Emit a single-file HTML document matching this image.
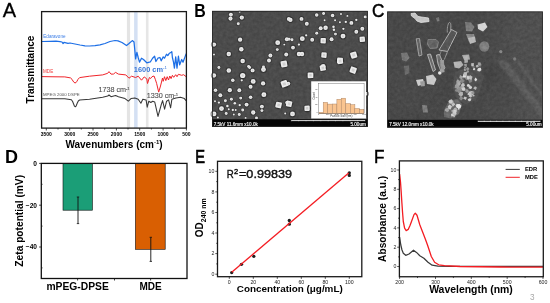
<!DOCTYPE html>
<html><head><meta charset="utf-8"><title>Figure</title>
<style>html,body{margin:0;padding:0;background:#fff;} svg{display:block;font-family:'Liberation Sans', Arial, sans-serif;}</style>
</head><body>
<svg width="550" height="303" viewBox="0 0 550 303">
<rect width="550" height="303" fill="#fff"/>
<text x="2.8" y="17.3" font-size="20.0" font-weight="normal" fill="#000" text-anchor="start" stroke="#000" stroke-width="0.3">A</text>
<text x="194.2" y="16.9" font-size="18.5" font-weight="bold" fill="#000" text-anchor="start" transform="translate(194.2,0) scale(0.86,1) translate(-194.2,0)">B</text>
<text x="0" y="0" font-size="19" fill="#000" stroke="#000" stroke-width="0.5" transform="translate(371.9,16.9) scale(0.9,1)">C</text>
<text x="5.0" y="162.9" font-size="18" font-weight="bold" fill="#000" text-anchor="start" >D</text>
<text x="0" y="0" font-size="19" fill="#000" stroke="#000" stroke-width="0.75" transform="translate(195.2,163.1) scale(0.77,1)">E</text>
<text x="0" y="0" font-size="19" fill="#000" stroke="#000" stroke-width="0.5" transform="translate(374.1,163.0) scale(0.9,1)">F</text>
<rect x="126.9" y="11.6" width="3.2" height="116.5" fill="#e4e4e4"/>
<rect x="134.1" y="11.6" width="3.5" height="116.5" fill="#d4e0f3"/>
<rect x="145.9" y="11.6" width="2.6" height="116.5" fill="#e6e6e6"/>
<polyline points="42.0,41.5 50.0,41.3 56.0,41.2 60.0,41.6 62.0,42.0 63.1,43.6 64.0,42.3 66.0,42.8 68.0,43.3 70.0,43.0 75.0,44.0 80.0,45.0 85.0,45.8 89.6,46.0 95.0,45.6 100.0,44.8 105.0,43.5 110.0,41.5 115.0,40.5 118.0,40.8 122.0,42.5 126.5,45.6 129.0,43.5 132.3,40.6 134.0,42.0 134.8,50.0 135.6,58.9 136.9,52.3 138.2,57.5 139.5,62.2 141.5,58.2 143.5,59.5 146.8,62.8 149.4,62.2 150.3,62.0 152.6,58.2 154.6,56.2 155.9,61.5 157.9,58.2 159.9,57.5 161.2,60.8 163.2,56.9 164.5,58.2 166.5,54.2 167.8,55.6 169.1,53.6 171.1,52.3 171.8,51.6 172.4,57.5 173.5,62.2 174.4,68.1 175.7,56.9 177.0,68.1 178.4,56.2 179.7,64.8 181.7,59.5 183.0,62.2 185.0,56.9 186.2,53.6" fill="none" stroke="#1d6fe6" stroke-width="1.25" stroke-linejoin="round"/>
<polyline points="42.0,76.6 55.0,76.8 64.8,76.9 70.5,77.9 72.0,79.3 73.0,81.0 74.0,82.4 75.0,82.9 76.0,82.6 77.0,81.2 78.0,79.3 79.6,77.6 89.5,76.2 102.7,74.9 107.7,73.3 109.0,71.6 111.0,74.1 113.4,74.1 115.6,72.4 118.4,74.1 125.8,74.9 129.0,78.2 131.6,76.2 135.6,77.5 138.2,76.2 141.5,80.2 144.2,76.9 146.8,78.9 147.5,83.5 149.4,77.5 150.6,78.5 152.0,76.7 154.0,76.0 155.3,79.3 156.6,83.3 158.7,92.1 160.5,86.0 162.5,78.0 163.2,81.3 164.5,76.7 165.8,80.6 167.2,76.7 168.5,80.0 169.8,76.0 171.1,78.6 172.4,75.3 173.7,77.3 175.7,74.7 177.0,76.7 178.4,74.3 181.7,75.3 183.6,74.7 186.2,76.7" fill="none" stroke="#f0242a" stroke-width="1.0" stroke-linejoin="round"/>
<polyline points="42.0,98.8 64.8,98.8 71.4,99.7 72.6,101.5 73.6,104.0 74.5,106.2 75.3,106.8 76.2,105.8 77.2,103.3 78.3,101.0 79.6,100.0 89.5,99.2 102.7,97.2 107.7,96.0 109.0,95.0 111.0,96.7 115.6,95.5 118.4,96.7 125.0,98.6 128.3,101.2 131.0,98.6 134.9,97.9 138.2,99.2 140.9,103.2 142.8,99.2 146.1,99.9 147.2,107.2 148.8,101.2 150.8,102.5 152.7,101.2 154.7,101.9 158.0,116.4 161.3,104.5 162.6,100.6 164.6,109.2 166.6,101.2 168.6,99.9 170.6,107.8 171.9,99.2 175.9,97.9 180.5,97.3 184.4,98.6 186.0,100.6" fill="none" stroke="#383838" stroke-width="1.05" stroke-linejoin="round"/>
<rect x="41.6" y="11.6" width="144.8" height="116.5" fill="none" stroke="#1a1a1a" stroke-width="1.3"/>
<line x1="46.3" y1="128.1" x2="46.3" y2="130.5" stroke="#1a1a1a" stroke-width="0.8"/>
<text x="46.3" y="135.9" font-size="5" font-weight="bold" fill="#000" text-anchor="middle" >3500</text>
<line x1="58.0" y1="128.1" x2="58.0" y2="129.5" stroke="#1a1a1a" stroke-width="0.8"/>
<line x1="69.7" y1="128.1" x2="69.7" y2="130.5" stroke="#1a1a1a" stroke-width="0.8"/>
<text x="69.7" y="135.9" font-size="5" font-weight="bold" fill="#000" text-anchor="middle" >3000</text>
<line x1="81.3" y1="128.1" x2="81.3" y2="129.5" stroke="#1a1a1a" stroke-width="0.8"/>
<line x1="93.0" y1="128.1" x2="93.0" y2="130.5" stroke="#1a1a1a" stroke-width="0.8"/>
<text x="93.0" y="135.9" font-size="5" font-weight="bold" fill="#000" text-anchor="middle" >2500</text>
<line x1="104.7" y1="128.1" x2="104.7" y2="129.5" stroke="#1a1a1a" stroke-width="0.8"/>
<line x1="116.4" y1="128.1" x2="116.4" y2="130.5" stroke="#1a1a1a" stroke-width="0.8"/>
<text x="116.4" y="135.9" font-size="5" font-weight="bold" fill="#000" text-anchor="middle" >2000</text>
<line x1="128.0" y1="128.1" x2="128.0" y2="129.5" stroke="#1a1a1a" stroke-width="0.8"/>
<line x1="139.7" y1="128.1" x2="139.7" y2="130.5" stroke="#1a1a1a" stroke-width="0.8"/>
<text x="139.7" y="135.9" font-size="5" font-weight="bold" fill="#000" text-anchor="middle" >1500</text>
<line x1="151.4" y1="128.1" x2="151.4" y2="129.5" stroke="#1a1a1a" stroke-width="0.8"/>
<line x1="163.1" y1="128.1" x2="163.1" y2="130.5" stroke="#1a1a1a" stroke-width="0.8"/>
<text x="163.1" y="135.9" font-size="5" font-weight="bold" fill="#000" text-anchor="middle" >1000</text>
<line x1="174.7" y1="128.1" x2="174.7" y2="129.5" stroke="#1a1a1a" stroke-width="0.8"/>
<line x1="186.4" y1="128.1" x2="186.4" y2="130.5" stroke="#1a1a1a" stroke-width="0.8"/>
<text x="186.4" y="135.9" font-size="5" font-weight="bold" fill="#000" text-anchor="middle" >500</text>
<text x="43.3" y="37.9" font-size="4.6" font-weight="normal" fill="#3b7de6" text-anchor="start" >Edaravone</text>
<text x="43.0" y="73.2" font-size="4.6" font-weight="normal" fill="#f04040" text-anchor="start" >MDE</text>
<text x="43.0" y="95.7" font-size="4.35" font-weight="normal" fill="#555" text-anchor="start" >MPEG 2000 DSPE</text>
<text x="133.8" y="72.2" font-size="7.4" font-weight="bold" fill="#3a78d8">1600 cm<tspan font-size="4.4" dy="-3" font-weight="normal">-1</tspan></text>
<text x="98.4" y="92.3" font-size="7.2" fill="#505050" stroke="#505050" stroke-width="0.12">1738 cm<tspan font-size="4.2" dy="-2.4" stroke-width="0.1">-1</tspan></text>
<text x="146.7" y="98.1" font-size="7.2" fill="#505050" stroke="#505050" stroke-width="0.12">1330 cm<tspan font-size="4.2" dy="-2.4" stroke-width="0.1">-1</tspan></text>
<text x="114" y="147.8" font-size="10" font-weight="bold" text-anchor="middle">Wavenumbers (cm<tspan font-size="6" dy="-4">-1</tspan><tspan dy="4">)</tspan></text>
<text x="0" y="0" font-size="10" font-weight="bold" fill="#000" text-anchor="middle" transform="translate(33.9,69.5) rotate(-90)">Transmittance</text>
<defs><radialGradient id="pg" cx="50%" cy="45%" r="55%"><stop offset="0" stop-color="#f4f4f4"/><stop offset="0.55" stop-color="#d8d8d8"/><stop offset="0.8" stop-color="#9a9a9a"/><stop offset="1" stop-color="#555" stop-opacity="0"/></radialGradient><filter id="blur1" x="-10%" y="-10%" width="120%" height="120%"><feGaussianBlur stdDeviation="0.4"/></filter><filter id="blur2"><feGaussianBlur stdDeviation="1.2"/></filter><filter id="blur2h" x="-50%" y="-50%" width="200%" height="200%"><feGaussianBlur stdDeviation="0.6"/></filter><filter id="grain" x="0" y="0" width="100%" height="100%" color-interpolation-filters="sRGB"><feTurbulence type="fractalNoise" baseFrequency="0.3" numOctaves="2" seed="5"/><feColorMatrix type="matrix" values="1 0 0 0 0  1 0 0 0 0  1 0 0 0 0  0 0 0 0 1"/></filter><filter id="blur3" x="-50%" y="-50%" width="200%" height="200%"><feGaussianBlur stdDeviation="4"/></filter></defs>
<rect x="212.0" y="10.9" width="155.89999999999998" height="115.8" fill="#4b4b4b"/>
<g filter="url(#blur2h)">
<circle cx="230.9" cy="14.6" r="2.80" fill="#222" opacity="0.55"/>
<circle cx="230.5" cy="18.6" r="2.94" fill="#222" opacity="0.55"/>
<circle cx="241.8" cy="17.6" r="3.08" fill="#222" opacity="0.55"/>
<circle cx="238.3" cy="23.8" r="2.10" fill="#222" opacity="0.55"/>
<circle cx="239.7" cy="11.8" r="1.40" fill="#222" opacity="0.55"/>
<circle cx="288.8" cy="18.9" r="2.80" fill="#222" opacity="0.55"/>
<circle cx="240.1" cy="39.7" r="3.08" fill="#222" opacity="0.55"/>
<circle cx="214" cy="44.6" r="3.08" fill="#222" opacity="0.55"/>
<circle cx="241.3" cy="49.2" r="3.22" fill="#222" opacity="0.55"/>
<circle cx="228.8" cy="54" r="3.22" fill="#222" opacity="0.55"/>
<circle cx="242.7" cy="61" r="3.22" fill="#222" opacity="0.55"/>
<circle cx="277.7" cy="42.7" r="3.50" fill="#222" opacity="0.55"/>
<circle cx="286.8" cy="39.3" r="2.80" fill="#222" opacity="0.55"/>
<circle cx="284.3" cy="44.6" r="1.40" fill="#222" opacity="0.55"/>
<circle cx="277.3" cy="49.6" r="2.10" fill="#222" opacity="0.55"/>
<circle cx="286.2" cy="54.5" r="2.80" fill="#222" opacity="0.55"/>
<circle cx="270.4" cy="55.5" r="2.80" fill="#222" opacity="0.55"/>
<circle cx="269" cy="60.5" r="2.80" fill="#222" opacity="0.55"/>
<circle cx="284.0" cy="64.0" r="4.62" fill="#222" opacity="0.55"/>
<circle cx="218.9" cy="67.5" r="2.10" fill="#222" opacity="0.55"/>
<circle cx="248.6" cy="66.4" r="2.10" fill="#222" opacity="0.55"/>
<circle cx="263.5" cy="67" r="2.10" fill="#222" opacity="0.55"/>
<circle cx="214" cy="54.5" r="1.40" fill="#222" opacity="0.55"/>
<circle cx="290.4" cy="19.9" r="3.08" fill="#222" opacity="0.55"/>
<circle cx="301.5" cy="18.9" r="2.80" fill="#222" opacity="0.55"/>
<circle cx="306.8" cy="23.8" r="2.80" fill="#222" opacity="0.55"/>
<circle cx="316.7" cy="14.9" r="2.52" fill="#222" opacity="0.55"/>
<circle cx="323.6" cy="13.5" r="2.10" fill="#222" opacity="0.55"/>
<circle cx="332.6" cy="15.5" r="2.52" fill="#222" opacity="0.55"/>
<circle cx="341" cy="14" r="1.40" fill="#222" opacity="0.55"/>
<circle cx="347.4" cy="15.9" r="1.40" fill="#222" opacity="0.55"/>
<circle cx="365.2" cy="16.9" r="2.10" fill="#222" opacity="0.55"/>
<circle cx="324.6" cy="20.3" r="1.40" fill="#222" opacity="0.55"/>
<circle cx="335.1" cy="20.3" r="1.40" fill="#222" opacity="0.55"/>
<circle cx="339.9" cy="22.3" r="1.40" fill="#222" opacity="0.55"/>
<circle cx="345.8" cy="21.9" r="1.68" fill="#222" opacity="0.55"/>
<circle cx="351.4" cy="22.9" r="2.80" fill="#222" opacity="0.55"/>
<circle cx="356.3" cy="19.9" r="1.68" fill="#222" opacity="0.55"/>
<circle cx="320.7" cy="28.2" r="2.80" fill="#222" opacity="0.55"/>
<circle cx="325.6" cy="27.8" r="3.22" fill="#222" opacity="0.55"/>
<circle cx="333.5" cy="26.8" r="1.82" fill="#222" opacity="0.55"/>
<circle cx="333.9" cy="29.8" r="1.82" fill="#222" opacity="0.55"/>
<circle cx="343.4" cy="28.8" r="1.68" fill="#222" opacity="0.55"/>
<circle cx="356.3" cy="31.8" r="2.80" fill="#222" opacity="0.55"/>
<circle cx="362.3" cy="28.8" r="2.80" fill="#222" opacity="0.55"/>
<circle cx="316.7" cy="33.3" r="2.10" fill="#222" opacity="0.55"/>
<circle cx="335.5" cy="34.1" r="2.10" fill="#222" opacity="0.55"/>
<circle cx="302.3" cy="38.7" r="3.50" fill="#222" opacity="0.55"/>
<circle cx="306.2" cy="35.3" r="1.68" fill="#222" opacity="0.55"/>
<circle cx="312.2" cy="39.7" r="2.80" fill="#222" opacity="0.55"/>
<circle cx="323.2" cy="40.7" r="3.92" fill="#222" opacity="0.55"/>
<circle cx="331.6" cy="39.3" r="2.80" fill="#222" opacity="0.55"/>
<circle cx="343" cy="36.1" r="3.50" fill="#222" opacity="0.55"/>
<circle cx="362.3" cy="39.3" r="3.92" fill="#222" opacity="0.55"/>
<circle cx="292" cy="39.7" r="2.10" fill="#222" opacity="0.55"/>
<circle cx="289" cy="39.3" r="2.10" fill="#222" opacity="0.55"/>
<circle cx="293" cy="47.6" r="2.80" fill="#222" opacity="0.55"/>
<circle cx="298.9" cy="44.6" r="1.68" fill="#222" opacity="0.55"/>
<circle cx="299" cy="54" r="3.22" fill="#222" opacity="0.55"/>
<circle cx="302" cy="54" r="3.22" fill="#222" opacity="0.55"/>
<circle cx="324" cy="55.1" r="3.92" fill="#222" opacity="0.55"/>
<circle cx="339.9" cy="60.5" r="4.20" fill="#222" opacity="0.55"/>
<circle cx="353.7" cy="55.1" r="4.62" fill="#222" opacity="0.55"/>
<circle cx="323.2" cy="66.4" r="3.50" fill="#222" opacity="0.55"/>
<circle cx="228.8" cy="70.4" r="3.22" fill="#222" opacity="0.55"/>
<circle cx="249.6" cy="67.5" r="2.10" fill="#222" opacity="0.55"/>
<circle cx="252.6" cy="70.4" r="2.80" fill="#222" opacity="0.55"/>
<circle cx="263.5" cy="69.6" r="3.50" fill="#222" opacity="0.55"/>
<circle cx="214" cy="75.5" r="3.08" fill="#222" opacity="0.55"/>
<circle cx="242.7" cy="75.5" r="3.78" fill="#222" opacity="0.55"/>
<circle cx="241.7" cy="80.3" r="1.68" fill="#222" opacity="0.55"/>
<circle cx="232.8" cy="80.3" r="2.52" fill="#222" opacity="0.55"/>
<circle cx="253.2" cy="81.4" r="3.50" fill="#222" opacity="0.55"/>
<circle cx="250.6" cy="86.8" r="2.80" fill="#222" opacity="0.55"/>
<circle cx="263.1" cy="83.4" r="3.08" fill="#222" opacity="0.55"/>
<circle cx="284.4" cy="83.8" r="4.76" fill="#222" opacity="0.55"/>
<circle cx="215.5" cy="90.2" r="2.52" fill="#222" opacity="0.55"/>
<circle cx="229.8" cy="90.2" r="3.08" fill="#222" opacity="0.55"/>
<circle cx="239.3" cy="90.2" r="2.80" fill="#222" opacity="0.55"/>
<circle cx="263.9" cy="94.7" r="3.50" fill="#222" opacity="0.55"/>
<circle cx="220.3" cy="95.3" r="2.80" fill="#222" opacity="0.55"/>
<circle cx="250.6" cy="97.3" r="2.52" fill="#222" opacity="0.55"/>
<circle cx="240.7" cy="98.1" r="2.10" fill="#222" opacity="0.55"/>
<circle cx="231.4" cy="99.3" r="2.10" fill="#222" opacity="0.55"/>
<circle cx="225.4" cy="100.7" r="2.10" fill="#222" opacity="0.55"/>
<circle cx="215" cy="101.2" r="1.40" fill="#222" opacity="0.55"/>
<circle cx="218.9" cy="102.6" r="1.68" fill="#222" opacity="0.55"/>
<circle cx="234.8" cy="103.2" r="1.82" fill="#222" opacity="0.55"/>
<circle cx="246.6" cy="104.6" r="2.80" fill="#222" opacity="0.55"/>
<circle cx="278.6" cy="105" r="4.34" fill="#222" opacity="0.55"/>
<circle cx="287.2" cy="102.6" r="2.80" fill="#222" opacity="0.55"/>
<circle cx="227.4" cy="106" r="1.82" fill="#222" opacity="0.55"/>
<circle cx="239.7" cy="105.2" r="1.68" fill="#222" opacity="0.55"/>
<circle cx="221.5" cy="108.6" r="3.50" fill="#222" opacity="0.55"/>
<circle cx="228.8" cy="109.2" r="1.40" fill="#222" opacity="0.55"/>
<circle cx="232.8" cy="110" r="1.68" fill="#222" opacity="0.55"/>
<circle cx="235.7" cy="110" r="1.40" fill="#222" opacity="0.55"/>
<circle cx="242.7" cy="110" r="2.10" fill="#222" opacity="0.55"/>
<circle cx="261.9" cy="106.6" r="2.80" fill="#222" opacity="0.55"/>
<circle cx="261.9" cy="110.6" r="2.10" fill="#222" opacity="0.55"/>
<circle cx="214" cy="113.9" r="3.50" fill="#222" opacity="0.55"/>
<circle cx="226.2" cy="113.5" r="2.10" fill="#222" opacity="0.55"/>
<circle cx="233.8" cy="114.5" r="1.40" fill="#222" opacity="0.55"/>
<circle cx="239.3" cy="114.5" r="2.10" fill="#222" opacity="0.55"/>
<circle cx="253.2" cy="112.5" r="3.08" fill="#222" opacity="0.55"/>
<circle cx="285.2" cy="113.5" r="1.40" fill="#222" opacity="0.55"/>
<circle cx="217.9" cy="117.5" r="1.40" fill="#222" opacity="0.55"/>
<circle cx="245.6" cy="117.9" r="1.40" fill="#222" opacity="0.55"/>
<circle cx="256.5" cy="117.9" r="2.10" fill="#222" opacity="0.55"/>
<circle cx="340.1" cy="61.1" r="4.20" fill="#222" opacity="0.55"/>
<circle cx="322.8" cy="67.9" r="4.20" fill="#222" opacity="0.55"/>
<circle cx="353.2" cy="70.1" r="4.62" fill="#222" opacity="0.55"/>
<circle cx="310.5" cy="75.3" r="4.20" fill="#222" opacity="0.55"/>
<circle cx="288.3" cy="83.6" r="2.80" fill="#222" opacity="0.55"/>
<circle cx="289.1" cy="103.8" r="4.20" fill="#222" opacity="0.55"/>
<circle cx="307.1" cy="108.3" r="3.92" fill="#222" opacity="0.55"/>
<circle cx="292.5" cy="113.9" r="3.50" fill="#222" opacity="0.55"/>
<circle cx="366.5" cy="93.7" r="2.52" fill="#222" opacity="0.55"/>
</g>
<g filter="url(#blur1)">
<circle cx="230.9" cy="14.6" r="1.94" fill="#ebebeb"/>
<circle cx="230.9" cy="14.75" r="0.84" fill="#d2d2d2"/>
<circle cx="230.5" cy="18.6" r="2.04" fill="#ebebeb"/>
<circle cx="230.5" cy="18.75" r="0.88" fill="#d2d2d2"/>
<circle cx="241.8" cy="17.6" r="2.13" fill="#ebebeb"/>
<circle cx="241.8" cy="17.75" r="0.92" fill="#d2d2d2"/>
<circle cx="238.3" cy="23.8" r="1.46" fill="#ebebeb"/>
<circle cx="238.3" cy="23.95" r="0.63" fill="#d2d2d2"/>
<circle cx="239.7" cy="11.8" r="0.97" fill="#ebebeb"/>
<circle cx="288.8" cy="18.9" r="1.94" fill="#ebebeb"/>
<circle cx="288.8" cy="19.049999999999997" r="0.84" fill="#d2d2d2"/>
<circle cx="240.1" cy="39.7" r="2.13" fill="#ebebeb"/>
<circle cx="240.1" cy="39.85" r="0.92" fill="#d2d2d2"/>
<circle cx="214" cy="44.6" r="2.13" fill="#ebebeb"/>
<circle cx="214" cy="44.75" r="0.92" fill="#d2d2d2"/>
<circle cx="241.3" cy="49.2" r="2.23" fill="#ebebeb"/>
<circle cx="241.3" cy="49.35" r="0.97" fill="#d2d2d2"/>
<circle cx="228.8" cy="54" r="2.23" fill="#ebebeb"/>
<circle cx="228.8" cy="54.15" r="0.97" fill="#d2d2d2"/>
<circle cx="242.7" cy="61" r="2.23" fill="#ebebeb"/>
<circle cx="242.7" cy="61.15" r="0.97" fill="#d2d2d2"/>
<circle cx="277.7" cy="42.7" r="2.42" fill="#ebebeb"/>
<circle cx="277.7" cy="42.85" r="1.05" fill="#d2d2d2"/>
<circle cx="286.8" cy="39.3" r="1.94" fill="#ebebeb"/>
<circle cx="286.8" cy="39.449999999999996" r="0.84" fill="#d2d2d2"/>
<circle cx="284.3" cy="44.6" r="0.97" fill="#ebebeb"/>
<circle cx="277.3" cy="49.6" r="1.46" fill="#ebebeb"/>
<circle cx="277.3" cy="49.75" r="0.63" fill="#d2d2d2"/>
<circle cx="286.2" cy="54.5" r="1.94" fill="#ebebeb"/>
<circle cx="286.2" cy="54.65" r="0.84" fill="#d2d2d2"/>
<circle cx="270.4" cy="55.5" r="1.94" fill="#ebebeb"/>
<circle cx="270.4" cy="55.65" r="0.84" fill="#d2d2d2"/>
<circle cx="269" cy="60.5" r="1.94" fill="#ebebeb"/>
<circle cx="269" cy="60.65" r="0.84" fill="#d2d2d2"/>
<rect x="280.87" y="60.87" width="6.27" height="6.27" rx="0.94" fill="#ebebeb" transform="rotate(-10 284.0 64.0)"/>
<rect x="282.59" y="62.59" width="2.82" height="2.82" fill="#cfcfcf" transform="rotate(-10 284.0 64.0)"/>
<circle cx="218.9" cy="67.5" r="1.46" fill="#ebebeb"/>
<circle cx="218.9" cy="67.65" r="0.63" fill="#d2d2d2"/>
<circle cx="248.6" cy="66.4" r="1.46" fill="#ebebeb"/>
<circle cx="248.6" cy="66.55000000000001" r="0.63" fill="#d2d2d2"/>
<circle cx="263.5" cy="67" r="1.46" fill="#ebebeb"/>
<circle cx="263.5" cy="67.15" r="0.63" fill="#d2d2d2"/>
<circle cx="214" cy="54.5" r="0.97" fill="#ebebeb"/>
<circle cx="290.4" cy="19.9" r="2.13" fill="#ebebeb"/>
<circle cx="290.4" cy="20.049999999999997" r="0.92" fill="#d2d2d2"/>
<circle cx="301.5" cy="18.9" r="1.94" fill="#ebebeb"/>
<circle cx="301.5" cy="19.049999999999997" r="0.84" fill="#d2d2d2"/>
<circle cx="306.8" cy="23.8" r="1.94" fill="#ebebeb"/>
<circle cx="306.8" cy="23.95" r="0.84" fill="#d2d2d2"/>
<circle cx="316.7" cy="14.9" r="1.75" fill="#ebebeb"/>
<circle cx="316.7" cy="15.05" r="0.76" fill="#d2d2d2"/>
<circle cx="323.6" cy="13.5" r="1.46" fill="#ebebeb"/>
<circle cx="323.6" cy="13.65" r="0.63" fill="#d2d2d2"/>
<circle cx="332.6" cy="15.5" r="1.75" fill="#ebebeb"/>
<circle cx="332.6" cy="15.65" r="0.76" fill="#d2d2d2"/>
<circle cx="341" cy="14" r="0.97" fill="#ebebeb"/>
<circle cx="347.4" cy="15.9" r="0.97" fill="#ebebeb"/>
<circle cx="365.2" cy="16.9" r="1.46" fill="#ebebeb"/>
<circle cx="365.2" cy="17.049999999999997" r="0.63" fill="#d2d2d2"/>
<circle cx="324.6" cy="20.3" r="0.97" fill="#ebebeb"/>
<circle cx="335.1" cy="20.3" r="0.97" fill="#ebebeb"/>
<circle cx="339.9" cy="22.3" r="0.97" fill="#ebebeb"/>
<circle cx="345.8" cy="21.9" r="1.16" fill="#ebebeb"/>
<circle cx="351.4" cy="22.9" r="1.94" fill="#ebebeb"/>
<circle cx="351.4" cy="23.049999999999997" r="0.84" fill="#d2d2d2"/>
<circle cx="356.3" cy="19.9" r="1.16" fill="#ebebeb"/>
<circle cx="320.7" cy="28.2" r="1.94" fill="#ebebeb"/>
<circle cx="320.7" cy="28.349999999999998" r="0.84" fill="#d2d2d2"/>
<circle cx="325.6" cy="27.8" r="2.23" fill="#ebebeb"/>
<circle cx="325.6" cy="27.95" r="0.97" fill="#d2d2d2"/>
<circle cx="333.5" cy="26.8" r="1.26" fill="#ebebeb"/>
<circle cx="333.9" cy="29.8" r="1.26" fill="#ebebeb"/>
<circle cx="343.4" cy="28.8" r="1.16" fill="#ebebeb"/>
<circle cx="356.3" cy="31.8" r="1.94" fill="#ebebeb"/>
<circle cx="356.3" cy="31.95" r="0.84" fill="#d2d2d2"/>
<circle cx="362.3" cy="28.8" r="1.94" fill="#ebebeb"/>
<circle cx="362.3" cy="28.95" r="0.84" fill="#d2d2d2"/>
<circle cx="316.7" cy="33.3" r="1.46" fill="#ebebeb"/>
<circle cx="316.7" cy="33.449999999999996" r="0.63" fill="#d2d2d2"/>
<circle cx="335.5" cy="34.1" r="1.46" fill="#ebebeb"/>
<circle cx="335.5" cy="34.25" r="0.63" fill="#d2d2d2"/>
<circle cx="302.3" cy="38.7" r="2.42" fill="#ebebeb"/>
<circle cx="302.3" cy="38.85" r="1.05" fill="#d2d2d2"/>
<circle cx="306.2" cy="35.3" r="1.16" fill="#ebebeb"/>
<circle cx="312.2" cy="39.7" r="1.94" fill="#ebebeb"/>
<circle cx="312.2" cy="39.85" r="0.84" fill="#d2d2d2"/>
<rect x="320.54" y="38.04" width="5.32" height="5.32" rx="0.80" fill="#ebebeb" transform="rotate(2 323.2 40.7)"/>
<rect x="322.00" y="39.50" width="2.39" height="2.39" fill="#cfcfcf" transform="rotate(2 323.2 40.7)"/>
<circle cx="331.6" cy="39.3" r="1.94" fill="#ebebeb"/>
<circle cx="331.6" cy="39.449999999999996" r="0.84" fill="#d2d2d2"/>
<circle cx="343" cy="36.1" r="2.42" fill="#ebebeb"/>
<circle cx="343" cy="36.25" r="1.05" fill="#d2d2d2"/>
<rect x="359.64" y="36.64" width="5.32" height="5.32" rx="0.80" fill="#ebebeb" transform="rotate(-5 362.3 39.3)"/>
<rect x="361.10" y="38.10" width="2.39" height="2.39" fill="#cfcfcf" transform="rotate(-5 362.3 39.3)"/>
<circle cx="292" cy="39.7" r="1.46" fill="#ebebeb"/>
<circle cx="292" cy="39.85" r="0.63" fill="#d2d2d2"/>
<circle cx="289" cy="39.3" r="1.46" fill="#ebebeb"/>
<circle cx="289" cy="39.449999999999996" r="0.63" fill="#d2d2d2"/>
<circle cx="293" cy="47.6" r="1.94" fill="#ebebeb"/>
<circle cx="293" cy="47.75" r="0.84" fill="#d2d2d2"/>
<circle cx="298.9" cy="44.6" r="1.16" fill="#ebebeb"/>
<circle cx="299" cy="54" r="2.23" fill="#ebebeb"/>
<circle cx="299" cy="54.15" r="0.97" fill="#d2d2d2"/>
<circle cx="302" cy="54" r="2.23" fill="#ebebeb"/>
<circle cx="302" cy="54.15" r="0.97" fill="#d2d2d2"/>
<rect x="321.34" y="52.44" width="5.32" height="5.32" rx="0.80" fill="#ebebeb" transform="rotate(4 324 55.1)"/>
<rect x="322.80" y="53.90" width="2.39" height="2.39" fill="#cfcfcf" transform="rotate(4 324 55.1)"/>
<rect x="337.05" y="57.65" width="5.70" height="5.70" rx="0.85" fill="#ebebeb" transform="rotate(5 339.9 60.5)"/>
<rect x="338.62" y="59.22" width="2.56" height="2.56" fill="#cfcfcf" transform="rotate(5 339.9 60.5)"/>
<rect x="350.56" y="51.97" width="6.27" height="6.27" rx="0.94" fill="#ebebeb" transform="rotate(-17 353.7 55.1)"/>
<rect x="352.29" y="53.69" width="2.82" height="2.82" fill="#cfcfcf" transform="rotate(-17 353.7 55.1)"/>
<circle cx="323.2" cy="66.4" r="2.42" fill="#ebebeb"/>
<circle cx="323.2" cy="66.55000000000001" r="1.05" fill="#d2d2d2"/>
<circle cx="228.8" cy="70.4" r="2.23" fill="#ebebeb"/>
<circle cx="228.8" cy="70.55000000000001" r="0.97" fill="#d2d2d2"/>
<circle cx="249.6" cy="67.5" r="1.46" fill="#ebebeb"/>
<circle cx="249.6" cy="67.65" r="0.63" fill="#d2d2d2"/>
<circle cx="252.6" cy="70.4" r="1.94" fill="#ebebeb"/>
<circle cx="252.6" cy="70.55000000000001" r="0.84" fill="#d2d2d2"/>
<circle cx="263.5" cy="69.6" r="2.42" fill="#ebebeb"/>
<circle cx="263.5" cy="69.75" r="1.05" fill="#d2d2d2"/>
<circle cx="214" cy="75.5" r="2.13" fill="#ebebeb"/>
<circle cx="214" cy="75.65" r="0.92" fill="#d2d2d2"/>
<circle cx="242.7" cy="75.5" r="2.62" fill="#ebebeb"/>
<circle cx="242.7" cy="75.65" r="1.13" fill="#d2d2d2"/>
<circle cx="241.7" cy="80.3" r="1.16" fill="#ebebeb"/>
<circle cx="232.8" cy="80.3" r="1.75" fill="#ebebeb"/>
<circle cx="232.8" cy="80.45" r="0.76" fill="#d2d2d2"/>
<circle cx="253.2" cy="81.4" r="2.42" fill="#ebebeb"/>
<circle cx="253.2" cy="81.55000000000001" r="1.05" fill="#d2d2d2"/>
<circle cx="250.6" cy="86.8" r="1.94" fill="#ebebeb"/>
<circle cx="250.6" cy="86.95" r="0.84" fill="#d2d2d2"/>
<circle cx="263.1" cy="83.4" r="2.13" fill="#ebebeb"/>
<circle cx="263.1" cy="83.55000000000001" r="0.92" fill="#d2d2d2"/>
<rect x="281.17" y="80.57" width="6.46" height="6.46" rx="0.97" fill="#ebebeb" transform="rotate(-19 284.4 83.8)"/>
<rect x="282.95" y="82.35" width="2.91" height="2.91" fill="#cfcfcf" transform="rotate(-19 284.4 83.8)"/>
<circle cx="215.5" cy="90.2" r="1.75" fill="#ebebeb"/>
<circle cx="215.5" cy="90.35000000000001" r="0.76" fill="#d2d2d2"/>
<circle cx="229.8" cy="90.2" r="2.13" fill="#ebebeb"/>
<circle cx="229.8" cy="90.35000000000001" r="0.92" fill="#d2d2d2"/>
<circle cx="239.3" cy="90.2" r="1.94" fill="#ebebeb"/>
<circle cx="239.3" cy="90.35000000000001" r="0.84" fill="#d2d2d2"/>
<circle cx="263.9" cy="94.7" r="2.42" fill="#ebebeb"/>
<circle cx="263.9" cy="94.85000000000001" r="1.05" fill="#d2d2d2"/>
<circle cx="220.3" cy="95.3" r="1.94" fill="#ebebeb"/>
<circle cx="220.3" cy="95.45" r="0.84" fill="#d2d2d2"/>
<circle cx="250.6" cy="97.3" r="1.75" fill="#ebebeb"/>
<circle cx="250.6" cy="97.45" r="0.76" fill="#d2d2d2"/>
<circle cx="240.7" cy="98.1" r="1.46" fill="#ebebeb"/>
<circle cx="240.7" cy="98.25" r="0.63" fill="#d2d2d2"/>
<circle cx="231.4" cy="99.3" r="1.46" fill="#ebebeb"/>
<circle cx="231.4" cy="99.45" r="0.63" fill="#d2d2d2"/>
<circle cx="225.4" cy="100.7" r="1.46" fill="#ebebeb"/>
<circle cx="225.4" cy="100.85000000000001" r="0.63" fill="#d2d2d2"/>
<circle cx="215" cy="101.2" r="0.97" fill="#ebebeb"/>
<circle cx="218.9" cy="102.6" r="1.16" fill="#ebebeb"/>
<circle cx="234.8" cy="103.2" r="1.26" fill="#ebebeb"/>
<circle cx="246.6" cy="104.6" r="1.94" fill="#ebebeb"/>
<circle cx="246.6" cy="104.75" r="0.84" fill="#d2d2d2"/>
<rect x="275.66" y="102.06" width="5.89" height="5.89" rx="0.88" fill="#ebebeb" transform="rotate(13 278.6 105)"/>
<rect x="277.27" y="103.67" width="2.65" height="2.65" fill="#cfcfcf" transform="rotate(13 278.6 105)"/>
<circle cx="287.2" cy="102.6" r="1.94" fill="#ebebeb"/>
<circle cx="287.2" cy="102.75" r="0.84" fill="#d2d2d2"/>
<circle cx="227.4" cy="106" r="1.26" fill="#ebebeb"/>
<circle cx="239.7" cy="105.2" r="1.16" fill="#ebebeb"/>
<circle cx="221.5" cy="108.6" r="2.42" fill="#ebebeb"/>
<circle cx="221.5" cy="108.75" r="1.05" fill="#d2d2d2"/>
<circle cx="228.8" cy="109.2" r="0.97" fill="#ebebeb"/>
<circle cx="232.8" cy="110" r="1.16" fill="#ebebeb"/>
<circle cx="235.7" cy="110" r="0.97" fill="#ebebeb"/>
<circle cx="242.7" cy="110" r="1.46" fill="#ebebeb"/>
<circle cx="242.7" cy="110.15" r="0.63" fill="#d2d2d2"/>
<circle cx="261.9" cy="106.6" r="1.94" fill="#ebebeb"/>
<circle cx="261.9" cy="106.75" r="0.84" fill="#d2d2d2"/>
<circle cx="261.9" cy="110.6" r="1.46" fill="#ebebeb"/>
<circle cx="261.9" cy="110.75" r="0.63" fill="#d2d2d2"/>
<circle cx="214" cy="113.9" r="2.42" fill="#ebebeb"/>
<circle cx="214" cy="114.05000000000001" r="1.05" fill="#d2d2d2"/>
<circle cx="226.2" cy="113.5" r="1.46" fill="#ebebeb"/>
<circle cx="226.2" cy="113.65" r="0.63" fill="#d2d2d2"/>
<circle cx="233.8" cy="114.5" r="0.97" fill="#ebebeb"/>
<circle cx="239.3" cy="114.5" r="1.46" fill="#ebebeb"/>
<circle cx="239.3" cy="114.65" r="0.63" fill="#d2d2d2"/>
<circle cx="253.2" cy="112.5" r="2.13" fill="#ebebeb"/>
<circle cx="253.2" cy="112.65" r="0.92" fill="#d2d2d2"/>
<circle cx="285.2" cy="113.5" r="0.97" fill="#ebebeb"/>
<circle cx="217.9" cy="117.5" r="0.97" fill="#ebebeb"/>
<circle cx="245.6" cy="117.9" r="0.97" fill="#ebebeb"/>
<circle cx="256.5" cy="117.9" r="1.46" fill="#ebebeb"/>
<circle cx="256.5" cy="118.05000000000001" r="0.63" fill="#d2d2d2"/>
<rect x="337.25" y="58.25" width="5.70" height="5.70" rx="0.85" fill="#ebebeb" transform="rotate(-10 340.1 61.1)"/>
<rect x="338.82" y="59.82" width="2.56" height="2.56" fill="#cfcfcf" transform="rotate(-10 340.1 61.1)"/>
<rect x="319.95" y="65.05" width="5.70" height="5.70" rx="0.85" fill="#ebebeb" transform="rotate(-11 322.8 67.9)"/>
<rect x="321.52" y="66.62" width="2.56" height="2.56" fill="#cfcfcf" transform="rotate(-11 322.8 67.9)"/>
<rect x="350.06" y="66.96" width="6.27" height="6.27" rx="0.94" fill="#ebebeb" transform="rotate(20 353.2 70.1)"/>
<rect x="351.79" y="68.69" width="2.82" height="2.82" fill="#cfcfcf" transform="rotate(20 353.2 70.1)"/>
<rect x="307.65" y="72.45" width="5.70" height="5.70" rx="0.85" fill="#ebebeb" transform="rotate(-1 310.5 75.3)"/>
<rect x="309.22" y="74.02" width="2.56" height="2.56" fill="#cfcfcf" transform="rotate(-1 310.5 75.3)"/>
<circle cx="288.3" cy="83.6" r="1.94" fill="#ebebeb"/>
<circle cx="288.3" cy="83.75" r="0.84" fill="#d2d2d2"/>
<rect x="286.25" y="100.95" width="5.70" height="5.70" rx="0.85" fill="#ebebeb" transform="rotate(13 289.1 103.8)"/>
<rect x="287.82" y="102.52" width="2.56" height="2.56" fill="#cfcfcf" transform="rotate(13 289.1 103.8)"/>
<rect x="304.44" y="105.64" width="5.32" height="5.32" rx="0.80" fill="#ebebeb" transform="rotate(-1 307.1 108.3)"/>
<rect x="305.90" y="107.10" width="2.39" height="2.39" fill="#cfcfcf" transform="rotate(-1 307.1 108.3)"/>
<circle cx="292.5" cy="113.9" r="2.42" fill="#ebebeb"/>
<circle cx="292.5" cy="114.05000000000001" r="1.05" fill="#d2d2d2"/>
<circle cx="366.5" cy="93.7" r="1.75" fill="#ebebeb"/>
<circle cx="366.5" cy="93.85000000000001" r="0.76" fill="#d2d2d2"/>
</g>
<rect x="212.0" y="10.9" width="155.89999999999998" height="108.39999999999999" filter="url(#grain)" opacity="0.15" style="mix-blend-mode:overlay"/>
<rect x="311.2" y="81.3" width="54.8" height="37.2" fill="#fff"/>
<rect x="319.0" y="112.4" width="4.5" height="1.2999999999999972" fill="#f9c490" stroke="#a88060" stroke-width="0.45"/>
<rect x="323.2" y="102.4" width="4.5" height="11.299999999999997" fill="#f9c490" stroke="#a88060" stroke-width="0.45"/>
<rect x="327.7" y="104.1" width="4.5" height="9.600000000000009" fill="#f9c490" stroke="#a88060" stroke-width="0.45"/>
<rect x="332.4" y="104.0" width="4.5" height="9.700000000000003" fill="#f9c490" stroke="#a88060" stroke-width="0.45"/>
<rect x="336.9" y="99.3" width="4.5" height="14.400000000000006" fill="#f9c490" stroke="#a88060" stroke-width="0.45"/>
<rect x="341.2" y="98.2" width="4.5" height="15.5" fill="#f9c490" stroke="#a88060" stroke-width="0.45"/>
<rect x="345.8" y="103.6" width="4.5" height="10.100000000000009" fill="#f9c490" stroke="#a88060" stroke-width="0.45"/>
<rect x="350.4" y="104.7" width="4.5" height="9.0" fill="#f9c490" stroke="#a88060" stroke-width="0.45"/>
<rect x="354.8" y="108.5" width="4.5" height="5.200000000000003" fill="#f9c490" stroke="#a88060" stroke-width="0.45"/>
<rect x="359.5" y="109.4" width="4.4" height="4.299999999999997" fill="#f9c490" stroke="#a88060" stroke-width="0.45"/>
<rect x="318.6" y="83.6" width="45.5" height="30.10000000000001" fill="none" stroke="#555" stroke-width="0.4"/>
<text x="315.2" y="99.5" font-size="2.8" font-weight="normal" fill="#333" text-anchor="start" transform="rotate(-90 315.2 99.5)" text-anchor="middle">Count</text>
<text x="341.3" y="117.4" font-size="2.8" font-weight="normal" fill="#333" text-anchor="middle" >Particle Size (nm)</text>
<text x="318.6" y="115.4" font-size="2.2" font-weight="normal" fill="#444" text-anchor="middle" >0</text>
<text x="327.7" y="115.4" font-size="2.2" font-weight="normal" fill="#444" text-anchor="middle" >100</text>
<text x="336.8" y="115.4" font-size="2.2" font-weight="normal" fill="#444" text-anchor="middle" >200</text>
<text x="345.9" y="115.4" font-size="2.2" font-weight="normal" fill="#444" text-anchor="middle" >300</text>
<text x="355.0" y="115.4" font-size="2.2" font-weight="normal" fill="#444" text-anchor="middle" >400</text>
<text x="364.1" y="115.4" font-size="2.2" font-weight="normal" fill="#444" text-anchor="middle" >500</text>
<text x="317.6" y="112.9" font-size="2.2" font-weight="normal" fill="#444" text-anchor="end" >0</text>
<text x="317.6" y="105.4" font-size="2.2" font-weight="normal" fill="#444" text-anchor="end" >20</text>
<text x="317.6" y="97.9" font-size="2.2" font-weight="normal" fill="#444" text-anchor="end" >40</text>
<text x="317.6" y="90.4" font-size="2.2" font-weight="normal" fill="#444" text-anchor="end" >60</text>
<rect x="212.0" y="119.3" width="155.89999999999998" height="7.400000000000006" fill="#050505"/>
<line x1="291.3" y1="120.6" x2="365.0" y2="120.6" stroke="#f4f4f4" stroke-width="0.9"/>
<line x1="291.3" y1="120.2" x2="291.3" y2="121.3" stroke="#f0f0f0" stroke-width="0.4"/>
<line x1="298.7" y1="120.2" x2="298.7" y2="121.3" stroke="#f0f0f0" stroke-width="0.4"/>
<line x1="306.0" y1="120.2" x2="306.0" y2="121.3" stroke="#f0f0f0" stroke-width="0.4"/>
<line x1="313.4" y1="120.2" x2="313.4" y2="121.3" stroke="#f0f0f0" stroke-width="0.4"/>
<line x1="320.8" y1="120.2" x2="320.8" y2="121.3" stroke="#f0f0f0" stroke-width="0.4"/>
<line x1="328.2" y1="120.2" x2="328.2" y2="121.3" stroke="#f0f0f0" stroke-width="0.4"/>
<line x1="335.5" y1="120.2" x2="335.5" y2="121.3" stroke="#f0f0f0" stroke-width="0.4"/>
<line x1="342.9" y1="120.2" x2="342.9" y2="121.3" stroke="#f0f0f0" stroke-width="0.4"/>
<line x1="350.3" y1="120.2" x2="350.3" y2="121.3" stroke="#f0f0f0" stroke-width="0.4"/>
<line x1="357.6" y1="120.2" x2="357.6" y2="121.3" stroke="#f0f0f0" stroke-width="0.4"/>
<line x1="365.0" y1="120.2" x2="365.0" y2="121.3" stroke="#f0f0f0" stroke-width="0.4"/>
<rect x="212.4" y="11.3" width="155.09999999999997" height="115.0" fill="none" stroke="#262626" stroke-width="0.8"/>
<text x="213.7" y="125.6" font-size="4.6" font-weight="normal" fill="#f2f2f2" text-anchor="start" stroke="#f2f2f2" stroke-width="0.15">7.5kV 11.6mm x10.0k</text>
<text x="365.8" y="125.9" font-size="4.6" font-weight="normal" fill="#f2f2f2" text-anchor="end" stroke="#f2f2f2" stroke-width="0.15">5.00um</text>
<defs><linearGradient id="cgrad" x1="0" y1="0" x2="1" y2="0"><stop offset="0" stop-color="#484848"/><stop offset="0.55" stop-color="#474747"/><stop offset="1" stop-color="#515151"/></linearGradient></defs>
<rect x="387.2" y="11.5" width="155.7" height="116.0" fill="url(#cgrad)"/>
<clipPath id="cclip"><rect x="387.2" y="11.5" width="155.7" height="116.0"/></clipPath>
<g clip-path="url(#cclip)">
<g filter="url(#blur3)">
<ellipse cx="408" cy="85" rx="18" ry="26" fill="#4a4a4a"/>
<ellipse cx="492" cy="80" rx="9" ry="15" fill="#424242"/>
<ellipse cx="446" cy="92" rx="6" ry="8" fill="#444"/>
<ellipse cx="500" cy="95" rx="12" ry="18" fill="#4a4a4a"/>
<ellipse cx="525" cy="35" rx="20" ry="18" fill="#505050"/>
</g>
<g filter="url(#blur2)">
<path d="M496,60 L506,60 L544,108 L544,122 Z" fill="#595959"/>
<path d="M503,62 L506,62 L544,113 L544,117 Z" fill="#616161"/>
<path d="M515,60 L519,60 L544,95 L544,100 Z" fill="#5c5c5c"/>
</g>
<g filter="url(#blur1)">
<path d="M411,13.5 L415,13 L418,16.5 L428.5,18 L429,21.5 L421,22.5 L417,21 L415,18.5 L411.5,16 Z" fill="#c4c4c4" stroke="#e2e2e2" stroke-width="0.8"/>
<path d="M436,18 L439,17 L439.5,21 L437,21.5 Z" fill="#7a7a7a"/>
<path d="M451.5,29.5 L457,32.5 L447.5,51.5 L439,50 Z" fill="#555" stroke="#b8b8b8" stroke-width="0.9"/>
<path d="M441.3,50.7 L438.4,59.6 M447.3,52.1 L444.3,59.6" fill="none" stroke="#a0a0a0" stroke-width="0.8"/>
<path d="M447.3,32.5 C447,26 448.5,22.5 449.5,22.4 C451,22.5 451.2,26 450.5,30" fill="none" stroke="#a8a8a8" stroke-width="0.8"/>
<path d="M416.2,38.8 L419.5,38.5 L422,55 L419,56 Z" fill="#626262" stroke="#b4b4b4" stroke-width="0.8"/>
<path d="M428,39.5 L436,39.5 L438.5,42 L437,48 L430,48.5 L427.5,44 Z" fill="#646464" stroke="#8e8e8e" stroke-width="0.7"/>
<path d="M427.5,54.5 L430.5,54 L435.5,70 L433,71.5 Z" fill="#6a6a6a" stroke="#bcbcbc" stroke-width="0.9"/>
<path d="M436.5,55 L439.5,54.5 L445,68 L441,71.5 L438,64 Z" fill="#6a6a6a" stroke="#b8b8b8" stroke-width="0.9"/>
<circle cx="439.8" cy="73" r="1.8" fill="#e4e4e4"/>
<path d="M440,60 L444,60 L444.5,72 L441,73 Z" fill="#9a9a9a"/>
<path d="M401,53 L407,52.5 L409.5,58 L406,61.5 L402,60 Z" fill="#777"/>
<path d="M404,66 L409,65.5 L409.5,73 L405,75 Z" fill="#6a6a6a"/>
<path d="M453.5,62 L461,61 L463.5,65 L459,68.5 L454.5,67.5 Z" fill="#b4b4b4"/>
<path d="M462,55 L469,54.5 L470,59.5 L464,60 Z" fill="#a8a8a8"/>
<path d="M416,80 L423,79 L424.5,84 L418,86 Z" fill="#cdcdcd"/>
<path d="M426,76 L433,74.5 L436.5,79 L434,85 L427,84 Z" fill="#c8c8c8"/>
<path d="M420,81.5 L424.5,81 L425,86 L421,86.5 Z" fill="#9a9a9a"/>
<path d="M465,22 L471,22.5 L474.5,27 L472,31.5 L466,31 Z" fill="#7c7c7c"/>
<path d="M477.5,24.5 L485,22.5 L487.5,27 L483,31.5 L478,29 Z" fill="#d4d4d4"/>
<path d="M466,34 L474,34 L475,40 L469,42 Z" fill="#8a8a8a"/>
<path d="M468,38 L475,36.5 L476,42 L470,44 Z" fill="#b8b8b8"/>
<ellipse cx="484.3" cy="46.5" rx="5" ry="5.2" fill="#7e7e7e"/>
<circle cx="500.8" cy="51.6" r="1.6" fill="#8a8a8a"/>
<circle cx="514.7" cy="59" r="1.7" fill="#747474"/>
<path d="M464,55.5 L467.5,55 L468,62.5 L464.5,63 Z" fill="#b0b0b0"/>
<path d="M455,72 L466,68 L478,70 L484,76 L480,90 L476,100 L466,104 L457,100 L453,88 Z" fill="#515151"/>
<polygon points="456.3,89.9 457.5,87.3 460.7,87.6 461.5,90.0 459.1,92.3" fill="rgb(192,192,192)"/>
<polygon points="460.2,79.8 461.7,79.3 462.7,80.2 462.3,81.9 460.9,82.7 459.5,81.3" fill="rgb(177,177,177)"/>
<polygon points="464.9,77.3 463.8,78.5 462.4,78.4 461.4,77.4 462.2,76.1 464.0,75.8" fill="rgb(120,120,120)"/>
<polygon points="468.5,101.0 467.7,99.2 469.5,98.2 471.4,98.6 471.0,100.5 469.8,101.3" fill="rgb(211,211,211)"/>
<polygon points="472.6,95.9 470.7,97.8 468.4,96.2 470.4,93.9" fill="rgb(188,188,188)"/>
<polygon points="467.8,84.6 469.0,84.8 470.1,85.8 469.3,86.8 468.1,87.3 467.3,86.2" fill="rgb(162,162,162)"/>
<polygon points="457.8,91.7 456.1,91.8 454.8,90.7 455.7,88.8 457.3,88.3 458.4,89.9" fill="rgb(129,129,129)"/>
<polygon points="470.6,89.1 468.4,88.2 469.4,86.2 471.6,86.2 472.1,87.9" fill="rgb(218,218,218)"/>
<polygon points="462.6,78.4 464.8,80.8 462.6,83.3 459.5,80.8" fill="rgb(135,135,135)"/>
<polygon points="459.4,87.8 461.0,86.0 463.1,87.3 462.4,89.9 460.9,91.1 459.2,90.0" fill="rgb(128,128,128)"/>
<polygon points="457.8,79.3 459.9,81.2 460.2,83.2 458.2,85.4 456.4,83.7 456.3,81.1" fill="rgb(163,163,163)"/>
<polygon points="471.4,86.3 470.0,87.7 468.6,86.3 469.9,85.3" fill="rgb(206,206,206)"/>
<polygon points="476.8,87.6 475.9,89.9 473.2,88.6 475.0,86.3" fill="rgb(179,179,179)"/>
<polygon points="469.0,75.5 468.9,78.6 466.4,80.2 464.1,77.3 466.2,75.1" fill="rgb(135,135,135)"/>
<polygon points="459.7,87.4 457.2,88.7 454.6,88.0 454.9,85.3 456.6,83.7 459.2,84.8" fill="rgb(156,156,156)"/>
<polygon points="469.2,77.2 471.4,78.0 471.4,79.6 470.1,81.3 468.5,80.2 468.2,78.4" fill="rgb(171,171,171)"/>
<polygon points="460.1,75.0 462.7,76.5 461.8,79.5 459.1,78.0" fill="rgb(159,159,159)"/>
<polygon points="462.6,77.3 463.4,73.8 466.2,74.7 465.7,77.5" fill="rgb(224,224,224)"/>
<polygon points="458.5,94.4 459.7,91.5 462.8,91.9 463.0,95.1 460.8,96.9" fill="rgb(181,181,181)"/>
<polygon points="467.4,79.8 466.5,76.1 470.0,76.2 470.9,78.9" fill="rgb(211,211,211)"/>
<polygon points="467.1,94.2 469.6,91.2 472.2,93.2 470.4,96.2" fill="rgb(207,207,207)"/>
<polygon points="457.8,88.0 460.2,88.1 461.6,89.7 461.2,91.7 458.4,92.9 457.0,90.6" fill="rgb(143,143,143)"/>
<polygon points="457.9,83.0 459.9,81.2 461.0,84.0 459.0,86.0" fill="rgb(172,172,172)"/>
<polygon points="474.3,79.9 475.3,77.5 477.3,79.3 475.9,81.4" fill="rgb(226,226,226)"/>
<polygon points="474.2,96.5 472.6,96.2 473.0,94.7 474.7,94.9" fill="rgb(191,191,191)"/>
<polygon points="463.5,75.4 463.7,72.2 467.0,71.9 466.9,75.8" fill="rgb(190,190,190)"/>
<polygon points="472.0,79.2 472.4,81.5 469.3,82.9 468.5,80.3 469.6,78.4" fill="rgb(131,131,131)"/>
<polygon points="471.3,80.1 468.8,78.3 469.9,75.0 472.6,76.8" fill="rgb(192,192,192)"/>
<polygon points="459.1,98.8 460.6,95.6 463.3,98.3 461.1,100.5" fill="rgb(138,138,138)"/>
<polygon points="467.0,97.4 465.7,99.9 463.2,98.6 464.5,96.6" fill="rgb(200,200,200)"/>
<polygon points="475.8,67.4 475.9,65.8 476.7,65.0 478.4,64.9 478.9,66.7 477.6,67.5" fill="rgb(181,181,181)"/>
<polygon points="467.8,70.1 469.2,71.6 467.9,73.2 466.3,71.7" fill="rgb(162,162,162)"/>
<polygon points="474.8,67.8 472.9,67.8 472.1,66.7 473.0,65.5 474.5,66.0" fill="rgb(128,128,128)"/>
<polygon points="465.0,66.7 466.2,67.8 464.8,68.9 463.9,67.6" fill="rgb(159,159,159)"/>
<polygon points="477.3,68.9 478.7,67.8 480.8,67.8 481.4,70.1 480.0,71.4 477.5,70.9" fill="rgb(221,221,221)"/>
<polygon points="481.5,64.5 481.0,66.4 479.0,66.6 478.2,64.6 479.9,63.5" fill="rgb(121,121,121)"/>
<polygon points="472.9,69.9 473.2,68.5 473.8,68.1 475.2,68.3 475.2,69.6 474.3,70.3" fill="rgb(218,218,218)"/>
<polygon points="471.1,63.2 473.8,63.1 473.8,66.0 471.4,66.3" fill="rgb(190,190,190)"/>
<polygon points="466.3,70.2 466.3,68.1 467.7,67.0 469.3,68.4 468.5,70.5" fill="rgb(148,148,148)"/>
<polygon points="464.1,64.1 466.7,63.7 467.0,67.0 464.4,66.3" fill="rgb(148,148,148)"/>
<polygon points="464.6,71.2 463.9,70.1 463.8,69.0 465.0,68.7 465.9,69.5 465.9,70.7" fill="rgb(166,166,166)"/>
<polygon points="477.7,64.9 477.9,62.4 480.3,62.3 481.2,64.2 479.6,65.8" fill="rgb(158,158,158)"/>
<polygon points="471.2,93.5 472.0,91.2 473.7,92.3 473.4,94.3" fill="rgb(205,205,205)"/>
<polygon points="463.1,89.9 460.6,88.6 462.4,86.4 464.9,87.9" fill="rgb(172,172,172)"/>
<polygon points="460.2,87.7 461.1,84.8 463.6,85.2 463.2,87.8" fill="rgb(165,165,165)"/>
<polygon points="461.5,84.0 462.8,83.1 464.3,83.6 465.0,85.7 463.4,87.0 461.2,85.8" fill="rgb(193,193,193)"/>
<polygon points="469.5,86.2 468.2,86.7 466.8,86.0 467.1,84.5 468.7,84.1 469.8,84.9" fill="rgb(214,214,214)"/>
<polygon points="468.8,91.6 467.0,93.3 465.4,91.7 465.2,90.2 466.8,88.9 468.2,89.9" fill="rgb(150,150,150)"/>
<polygon points="472.3,91.2 474.5,93.4 472.5,95.7 469.4,93.6" fill="rgb(174,174,174)"/>
<polygon points="473.9,91.9 472.8,95.1 469.8,93.8 470.5,90.7" fill="rgb(198,198,198)"/>
<polygon points="461.9,90.5 462.2,87.7 464.4,87.0 465.7,89.2 464.5,91.1" fill="rgb(211,211,211)"/>
<polygon points="474.7,92.0 473.2,94.4 471.1,93.3 472.0,91.0" fill="rgb(150,150,150)"/>
<path d="M444,110 L449,101 L457,99 L462,104 L459,114 L451,118.5 L444,117 Z" fill="#676767"/>
<polygon points="444.9,110.8 445.1,108.9 447.3,107.4 448.7,108.7 449.1,111.0 447.1,112.0" fill="rgb(165,165,165)"/>
<polygon points="455.2,117.1 453.6,117.5 453.0,115.5 454.8,115.0" fill="rgb(175,175,175)"/>
<polygon points="453.7,102.3 455.4,104.5 452.7,106.8 451.2,103.5" fill="rgb(197,197,197)"/>
<polygon points="458.2,107.8 459.6,108.3 459.1,110.1 457.7,109.3" fill="rgb(210,210,210)"/>
<polygon points="453.7,113.5 454.1,115.9 451.3,116.6 451.0,113.7" fill="rgb(214,214,214)"/>
<polygon points="449.7,106.5 451.1,107.6 450.6,109.4 449.2,109.2 448.7,107.9" fill="rgb(210,210,210)"/>
<polygon points="453.7,112.0 456.1,112.1 456.6,114.1 454.9,116.1 452.9,114.9 452.4,113.0" fill="rgb(191,191,191)"/>
<polygon points="456.8,103.8 459.1,104.4 459.1,106.4 458.1,108.1 456.4,107.4 455.5,105.5" fill="rgb(220,220,220)"/>
<polygon points="447.7,106.3 449.6,104.6 452.0,106.3 450.9,108.9 448.5,109.0" fill="rgb(203,203,203)"/>
<polygon points="451.6,111.7 451.3,110.5 452.8,109.8 454.1,110.6 454.0,111.9 452.7,112.9" fill="rgb(164,164,164)"/>
<polygon points="453.1,102.4 450.5,102.4 450.6,100.2 452.7,100.3" fill="rgb(156,156,156)"/>
<polygon points="457.1,111.8 454.3,112.0 452.8,110.2 454.1,107.9 455.9,107.4 457.2,109.3" fill="rgb(178,178,178)"/>
<polygon points="453.6,109.9 456.2,110.1 456.2,113.7 452.9,113.4" fill="rgb(208,208,208)"/>
<polygon points="453.5,100.7 454.0,102.5 452.5,103.8 450.7,102.7 451.0,100.8" fill="rgb(154,154,154)"/>
<polygon points="449.8,103.7 448.4,101.6 449.5,100.0 451.9,99.2 452.9,101.4 452.2,103.2" fill="rgb(205,205,205)"/>
<polygon points="461.5,105.7 460.5,108.3 458.3,108.8 456.5,106.8 457.7,104.2 459.6,103.9" fill="rgb(230,230,230)"/>
<path d="M422,105 L427,105.5 L428,112.5 L423,112.5 Z" fill="#7e7e7e"/>
</g>
</g>
<rect x="387.2" y="11.5" width="155.7" height="108.3" filter="url(#grain)" opacity="0.15" style="mix-blend-mode:overlay"/>
<rect x="387.2" y="119.8" width="155.7" height="7.700000000000003" fill="#050505"/>
<line x1="478" y1="121.3" x2="540.2" y2="121.3" stroke="#f4f4f4" stroke-width="1.0"/>
<line x1="478.0" y1="120.6" x2="478.0" y2="122.0" stroke="#f4f4f4" stroke-width="0.4"/>
<line x1="484.2" y1="120.6" x2="484.2" y2="122.0" stroke="#f4f4f4" stroke-width="0.4"/>
<line x1="490.4" y1="120.6" x2="490.4" y2="122.0" stroke="#f4f4f4" stroke-width="0.4"/>
<line x1="496.7" y1="120.6" x2="496.7" y2="122.0" stroke="#f4f4f4" stroke-width="0.4"/>
<line x1="502.9" y1="120.6" x2="502.9" y2="122.0" stroke="#f4f4f4" stroke-width="0.4"/>
<line x1="509.1" y1="120.6" x2="509.1" y2="122.0" stroke="#f4f4f4" stroke-width="0.4"/>
<line x1="515.3" y1="120.6" x2="515.3" y2="122.0" stroke="#f4f4f4" stroke-width="0.4"/>
<line x1="521.5" y1="120.6" x2="521.5" y2="122.0" stroke="#f4f4f4" stroke-width="0.4"/>
<line x1="527.8" y1="120.6" x2="527.8" y2="122.0" stroke="#f4f4f4" stroke-width="0.4"/>
<line x1="534.0" y1="120.6" x2="534.0" y2="122.0" stroke="#f4f4f4" stroke-width="0.4"/>
<line x1="540.2" y1="120.6" x2="540.2" y2="122.0" stroke="#f4f4f4" stroke-width="0.4"/>
<rect x="387.59999999999997" y="11.9" width="154.89999999999998" height="115.2" fill="none" stroke="#2a2a2a" stroke-width="0.8"/>
<text x="389.2" y="125.9" font-size="4.6" font-weight="normal" fill="#f2f2f2" text-anchor="start" stroke="#f2f2f2" stroke-width="0.15">7.5kV 12.0mm x10.0k</text>
<text x="541.6" y="126.1" font-size="4.6" font-weight="normal" fill="#f2f2f2" text-anchor="end" stroke="#f2f2f2" stroke-width="0.15">5.00um</text>
<rect x="63.0" y="163.4" width="29.4" height="46.8" fill="#1b9e77" stroke="#111" stroke-width="0.6"/>
<rect x="135.4" y="163.4" width="29.8" height="85.9" fill="#d95f02" stroke="#111" stroke-width="0.6"/>
<line x1="78.0" y1="197.0" x2="78.0" y2="223.6" stroke="#111" stroke-width="0.9"/>
<line x1="76.8" y1="197.0" x2="79.2" y2="197.0" stroke="#111" stroke-width="0.8"/>
<line x1="76.8" y1="223.6" x2="79.2" y2="223.6" stroke="#111" stroke-width="0.8"/>
<line x1="150.8" y1="237.3" x2="150.8" y2="261.4" stroke="#111" stroke-width="0.9"/>
<line x1="149.60000000000002" y1="237.3" x2="152.0" y2="237.3" stroke="#111" stroke-width="0.8"/>
<line x1="149.60000000000002" y1="261.4" x2="152.0" y2="261.4" stroke="#111" stroke-width="0.8"/>
<rect x="41.3" y="163.4" width="145.7" height="115.1" fill="none" stroke="#111" stroke-width="1.3"/>
<line x1="39.099999999999994" y1="163.4" x2="41.3" y2="163.4" stroke="#111" stroke-width="0.8"/>
<text x="37.0" y="165.7" font-size="6.6" font-weight="bold" fill="#000" text-anchor="end" >0</text>
<line x1="41.3" y1="184.3" x2="42.599999999999994" y2="184.3" stroke="#111" stroke-width="0.7"/>
<line x1="39.099999999999994" y1="205.2" x2="41.3" y2="205.2" stroke="#111" stroke-width="0.8"/>
<text x="37.0" y="207.5" font-size="6.6" font-weight="bold" fill="#000" text-anchor="end" >&#8722;20</text>
<line x1="41.3" y1="226.1" x2="42.599999999999994" y2="226.1" stroke="#111" stroke-width="0.7"/>
<line x1="39.099999999999994" y1="247.0" x2="41.3" y2="247.0" stroke="#111" stroke-width="0.8"/>
<text x="37.0" y="249.3" font-size="6.6" font-weight="bold" fill="#000" text-anchor="end" >&#8722;40</text>
<line x1="41.3" y1="267.9" x2="42.599999999999994" y2="267.9" stroke="#111" stroke-width="0.7"/>
<line x1="77.6" y1="278.5" x2="77.6" y2="280.5" stroke="#111" stroke-width="0.8"/>
<line x1="114.5" y1="278.5" x2="114.5" y2="280.5" stroke="#111" stroke-width="0.8"/>
<line x1="150.6" y1="278.5" x2="150.6" y2="280.5" stroke="#111" stroke-width="0.8"/>
<text x="77.6" y="290.2" font-size="10.3" font-weight="bold" fill="#000" text-anchor="middle" >mPEG-DPSE</text>
<text x="150.5" y="290.2" font-size="10" font-weight="bold" fill="#000" text-anchor="middle" >MDE</text>
<text x="0" y="0" font-size="10.2" font-weight="bold" fill="#000" text-anchor="middle" transform="translate(23.2,220.8) rotate(-90)">Zeta potential (mV)</text>
<circle cx="231.7" cy="272.6" r="1.65" fill="#1e1e1e"/>
<circle cx="241.5" cy="264.3" r="1.65" fill="#1e1e1e"/>
<circle cx="253.8" cy="256.3" r="1.65" fill="#1e1e1e"/>
<circle cx="289.3" cy="224.2" r="1.65" fill="#1e1e1e"/>
<circle cx="289.3" cy="220.5" r="1.65" fill="#1e1e1e"/>
<circle cx="349.3" cy="175.4" r="1.65" fill="#1e1e1e"/>
<circle cx="349.3" cy="172.8" r="1.65" fill="#1e1e1e"/>
<line x1="231.7" y1="272.3" x2="348.7" y2="173.0" stroke="#f41c22" stroke-width="1.3"/>
<rect x="217.5" y="161.3" width="144.3" height="115.39999999999998" fill="none" stroke="#1a1a1a" stroke-width="1.3"/>
<line x1="215.3" y1="274.2" x2="217.5" y2="274.2" stroke="#111" stroke-width="0.7"/>
<text x="214.3" y="276.0" font-size="5.2" font-weight="normal" fill="#222" text-anchor="end" >0</text>
<line x1="216.2" y1="263.9" x2="217.5" y2="263.9" stroke="#111" stroke-width="0.7"/>
<line x1="215.3" y1="253.6" x2="217.5" y2="253.6" stroke="#111" stroke-width="0.7"/>
<text x="214.3" y="255.4" font-size="5.2" font-weight="normal" fill="#222" text-anchor="end" >2</text>
<line x1="216.2" y1="243.3" x2="217.5" y2="243.3" stroke="#111" stroke-width="0.7"/>
<line x1="215.3" y1="233.0" x2="217.5" y2="233.0" stroke="#111" stroke-width="0.7"/>
<text x="214.3" y="234.8" font-size="5.2" font-weight="normal" fill="#222" text-anchor="end" >4</text>
<line x1="216.2" y1="222.8" x2="217.5" y2="222.8" stroke="#111" stroke-width="0.7"/>
<line x1="215.3" y1="212.5" x2="217.5" y2="212.5" stroke="#111" stroke-width="0.7"/>
<text x="214.3" y="214.3" font-size="5.2" font-weight="normal" fill="#222" text-anchor="end" >6</text>
<line x1="216.2" y1="202.2" x2="217.5" y2="202.2" stroke="#111" stroke-width="0.7"/>
<line x1="215.3" y1="191.9" x2="217.5" y2="191.9" stroke="#111" stroke-width="0.7"/>
<text x="214.3" y="193.7" font-size="5.2" font-weight="normal" fill="#222" text-anchor="end" >8</text>
<line x1="216.2" y1="181.6" x2="217.5" y2="181.6" stroke="#111" stroke-width="0.7"/>
<line x1="215.3" y1="171.3" x2="217.5" y2="171.3" stroke="#111" stroke-width="0.7"/>
<text x="214.3" y="173.1" font-size="5.2" font-weight="normal" fill="#222" text-anchor="end" >10</text>
<line x1="229.3" y1="276.7" x2="229.3" y2="278.9" stroke="#111" stroke-width="0.7"/>
<text x="229.3" y="284.2" font-size="5.2" font-weight="normal" fill="#222" text-anchor="middle" >0</text>
<line x1="253.3" y1="276.7" x2="253.3" y2="278.9" stroke="#111" stroke-width="0.7"/>
<text x="253.3" y="284.2" font-size="5.2" font-weight="normal" fill="#222" text-anchor="middle" >20</text>
<line x1="277.3" y1="276.7" x2="277.3" y2="278.9" stroke="#111" stroke-width="0.7"/>
<text x="277.3" y="284.2" font-size="5.2" font-weight="normal" fill="#222" text-anchor="middle" >40</text>
<line x1="301.3" y1="276.7" x2="301.3" y2="278.9" stroke="#111" stroke-width="0.7"/>
<text x="301.3" y="284.2" font-size="5.2" font-weight="normal" fill="#222" text-anchor="middle" >60</text>
<line x1="325.3" y1="276.7" x2="325.3" y2="278.9" stroke="#111" stroke-width="0.7"/>
<text x="325.3" y="284.2" font-size="5.2" font-weight="normal" fill="#222" text-anchor="middle" >80</text>
<line x1="349.3" y1="276.7" x2="349.3" y2="278.9" stroke="#111" stroke-width="0.7"/>
<text x="349.3" y="284.2" font-size="5.2" font-weight="normal" fill="#222" text-anchor="middle" >100</text>
<g fill="#111" stroke="#111" stroke-width="0.4"><text x="226.7" y="177.8" font-size="11.8" textLength="7.0" lengthAdjust="spacingAndGlyphs">R</text><text x="234.1" y="173.9" font-size="7" textLength="4.2" lengthAdjust="spacingAndGlyphs">2</text><text x="239.0" y="177.8" font-size="11.8" textLength="53" lengthAdjust="spacingAndGlyphs">=0.99839</text></g>
<text x="289.8" y="292.4" font-size="9.9" font-weight="bold" fill="#000" text-anchor="middle" >Concentration (&#956;g/mL)</text>
<text x="0" y="0" font-size="10" font-weight="bold" text-anchor="start" transform="translate(202.9,237.2) rotate(-90)">OD<tspan font-size="6.9" dy="3.0">240 nm</tspan></text>
<polyline points="399.6,237.2 400.8,245.0 402.0,250.0 403.3,253.2 405.7,255.3 409.0,254.0 413.5,250.2 416.5,252.4 419.8,255.7 423.9,258.2 428.0,262.3 432.1,265.2 437.9,266.1 450.0,266.4 543.0,266.4" fill="none" stroke="#3a3a3a" stroke-width="1.25" stroke-linejoin="round"/>
<polyline points="399.6,174.1 400.5,182.0 401.2,192.0 401.9,203.0 402.6,213.0 403.3,221.5 404.6,228.1 406.2,230.6 408.2,229.4 410.0,225.5 411.5,221.5 414.0,214.6 415.3,213.3 417.0,215.2 419.8,224.8 423.0,233.0 425.5,239.5 427.5,245.0 429.5,251.0 431.3,256.5 434.6,262.3 438.7,264.8 444.5,265.6 460.0,266.5 500.0,267.0 543.0,267.2" fill="none" stroke="#f41c22" stroke-width="1.3" stroke-linejoin="round"/>
<rect x="399.4" y="160.9" width="143.89999999999998" height="115.85" fill="none" stroke="#1a1a1a" stroke-width="1.3"/>
<line x1="397.2" y1="266.5" x2="399.4" y2="266.5" stroke="#111" stroke-width="0.7"/>
<text x="396.4" y="268.3" font-size="5.2" font-weight="normal" fill="#222" text-anchor="end" >0</text>
<line x1="398.09999999999997" y1="256.9" x2="399.4" y2="256.9" stroke="#111" stroke-width="0.7"/>
<line x1="397.2" y1="247.2" x2="399.4" y2="247.2" stroke="#111" stroke-width="0.7"/>
<text x="396.4" y="249.0" font-size="5.2" font-weight="normal" fill="#222" text-anchor="end" >2</text>
<line x1="398.09999999999997" y1="237.6" x2="399.4" y2="237.6" stroke="#111" stroke-width="0.7"/>
<line x1="397.2" y1="227.9" x2="399.4" y2="227.9" stroke="#111" stroke-width="0.7"/>
<text x="396.4" y="229.7" font-size="5.2" font-weight="normal" fill="#222" text-anchor="end" >4</text>
<line x1="398.09999999999997" y1="218.2" x2="399.4" y2="218.2" stroke="#111" stroke-width="0.7"/>
<line x1="397.2" y1="208.6" x2="399.4" y2="208.6" stroke="#111" stroke-width="0.7"/>
<text x="396.4" y="210.4" font-size="5.2" font-weight="normal" fill="#222" text-anchor="end" >6</text>
<line x1="398.09999999999997" y1="198.9" x2="399.4" y2="198.9" stroke="#111" stroke-width="0.7"/>
<line x1="397.2" y1="189.3" x2="399.4" y2="189.3" stroke="#111" stroke-width="0.7"/>
<text x="396.4" y="191.1" font-size="5.2" font-weight="normal" fill="#222" text-anchor="end" >8</text>
<line x1="398.09999999999997" y1="179.6" x2="399.4" y2="179.6" stroke="#111" stroke-width="0.7"/>
<line x1="397.2" y1="170.0" x2="399.4" y2="170.0" stroke="#111" stroke-width="0.7"/>
<text x="396.4" y="171.8" font-size="5.2" font-weight="normal" fill="#222" text-anchor="end" >10</text>
<line x1="399.6" y1="276.75" x2="399.6" y2="278.95" stroke="#111" stroke-width="0.7"/>
<text x="399.6" y="283.8" font-size="5.2" font-weight="normal" fill="#222" text-anchor="middle" >200</text>
<line x1="417.5" y1="276.75" x2="417.5" y2="278.05" stroke="#111" stroke-width="0.7"/>
<line x1="435.5" y1="276.75" x2="435.5" y2="278.95" stroke="#111" stroke-width="0.7"/>
<text x="435.5" y="283.8" font-size="5.2" font-weight="normal" fill="#222" text-anchor="middle" >300</text>
<line x1="453.4" y1="276.75" x2="453.4" y2="278.05" stroke="#111" stroke-width="0.7"/>
<line x1="471.3" y1="276.75" x2="471.3" y2="278.95" stroke="#111" stroke-width="0.7"/>
<text x="471.3" y="283.8" font-size="5.2" font-weight="normal" fill="#222" text-anchor="middle" >400</text>
<line x1="489.2" y1="276.75" x2="489.2" y2="278.05" stroke="#111" stroke-width="0.7"/>
<line x1="507.2" y1="276.75" x2="507.2" y2="278.95" stroke="#111" stroke-width="0.7"/>
<text x="507.2" y="283.8" font-size="5.2" font-weight="normal" fill="#222" text-anchor="middle" >500</text>
<line x1="525.1" y1="276.75" x2="525.1" y2="278.05" stroke="#111" stroke-width="0.7"/>
<line x1="543.0" y1="276.75" x2="543.0" y2="278.95" stroke="#111" stroke-width="0.7"/>
<text x="543.0" y="283.8" font-size="5.2" font-weight="normal" fill="#222" text-anchor="middle" >600</text>
<line x1="505.6" y1="169.4" x2="519.8" y2="169.4" stroke="#3a3a3a" stroke-width="1"/>
<line x1="505.6" y1="177.3" x2="519.8" y2="177.3" stroke="#f0242a" stroke-width="1"/>
<text x="524.9" y="171.4" font-size="5.8" font-weight="bold" fill="#000" text-anchor="start" >EDR</text>
<text x="524.9" y="179.3" font-size="5.8" font-weight="bold" fill="#000" text-anchor="start" >MDE</text>
<text x="471" y="292.8" font-size="10.45" font-weight="bold" fill="#000" text-anchor="middle" >Wavelength (nm)</text>
<text x="0" y="0" font-size="10.2" font-weight="bold" fill="#000" text-anchor="middle" transform="translate(386.3,218.9) rotate(-90)">Absorbance (a.u.)</text>
<text x="532.3" y="299.6" font-size="8.2" font-weight="normal" fill="#a8a8a8" text-anchor="middle" >3</text>
</svg>
</body></html>
